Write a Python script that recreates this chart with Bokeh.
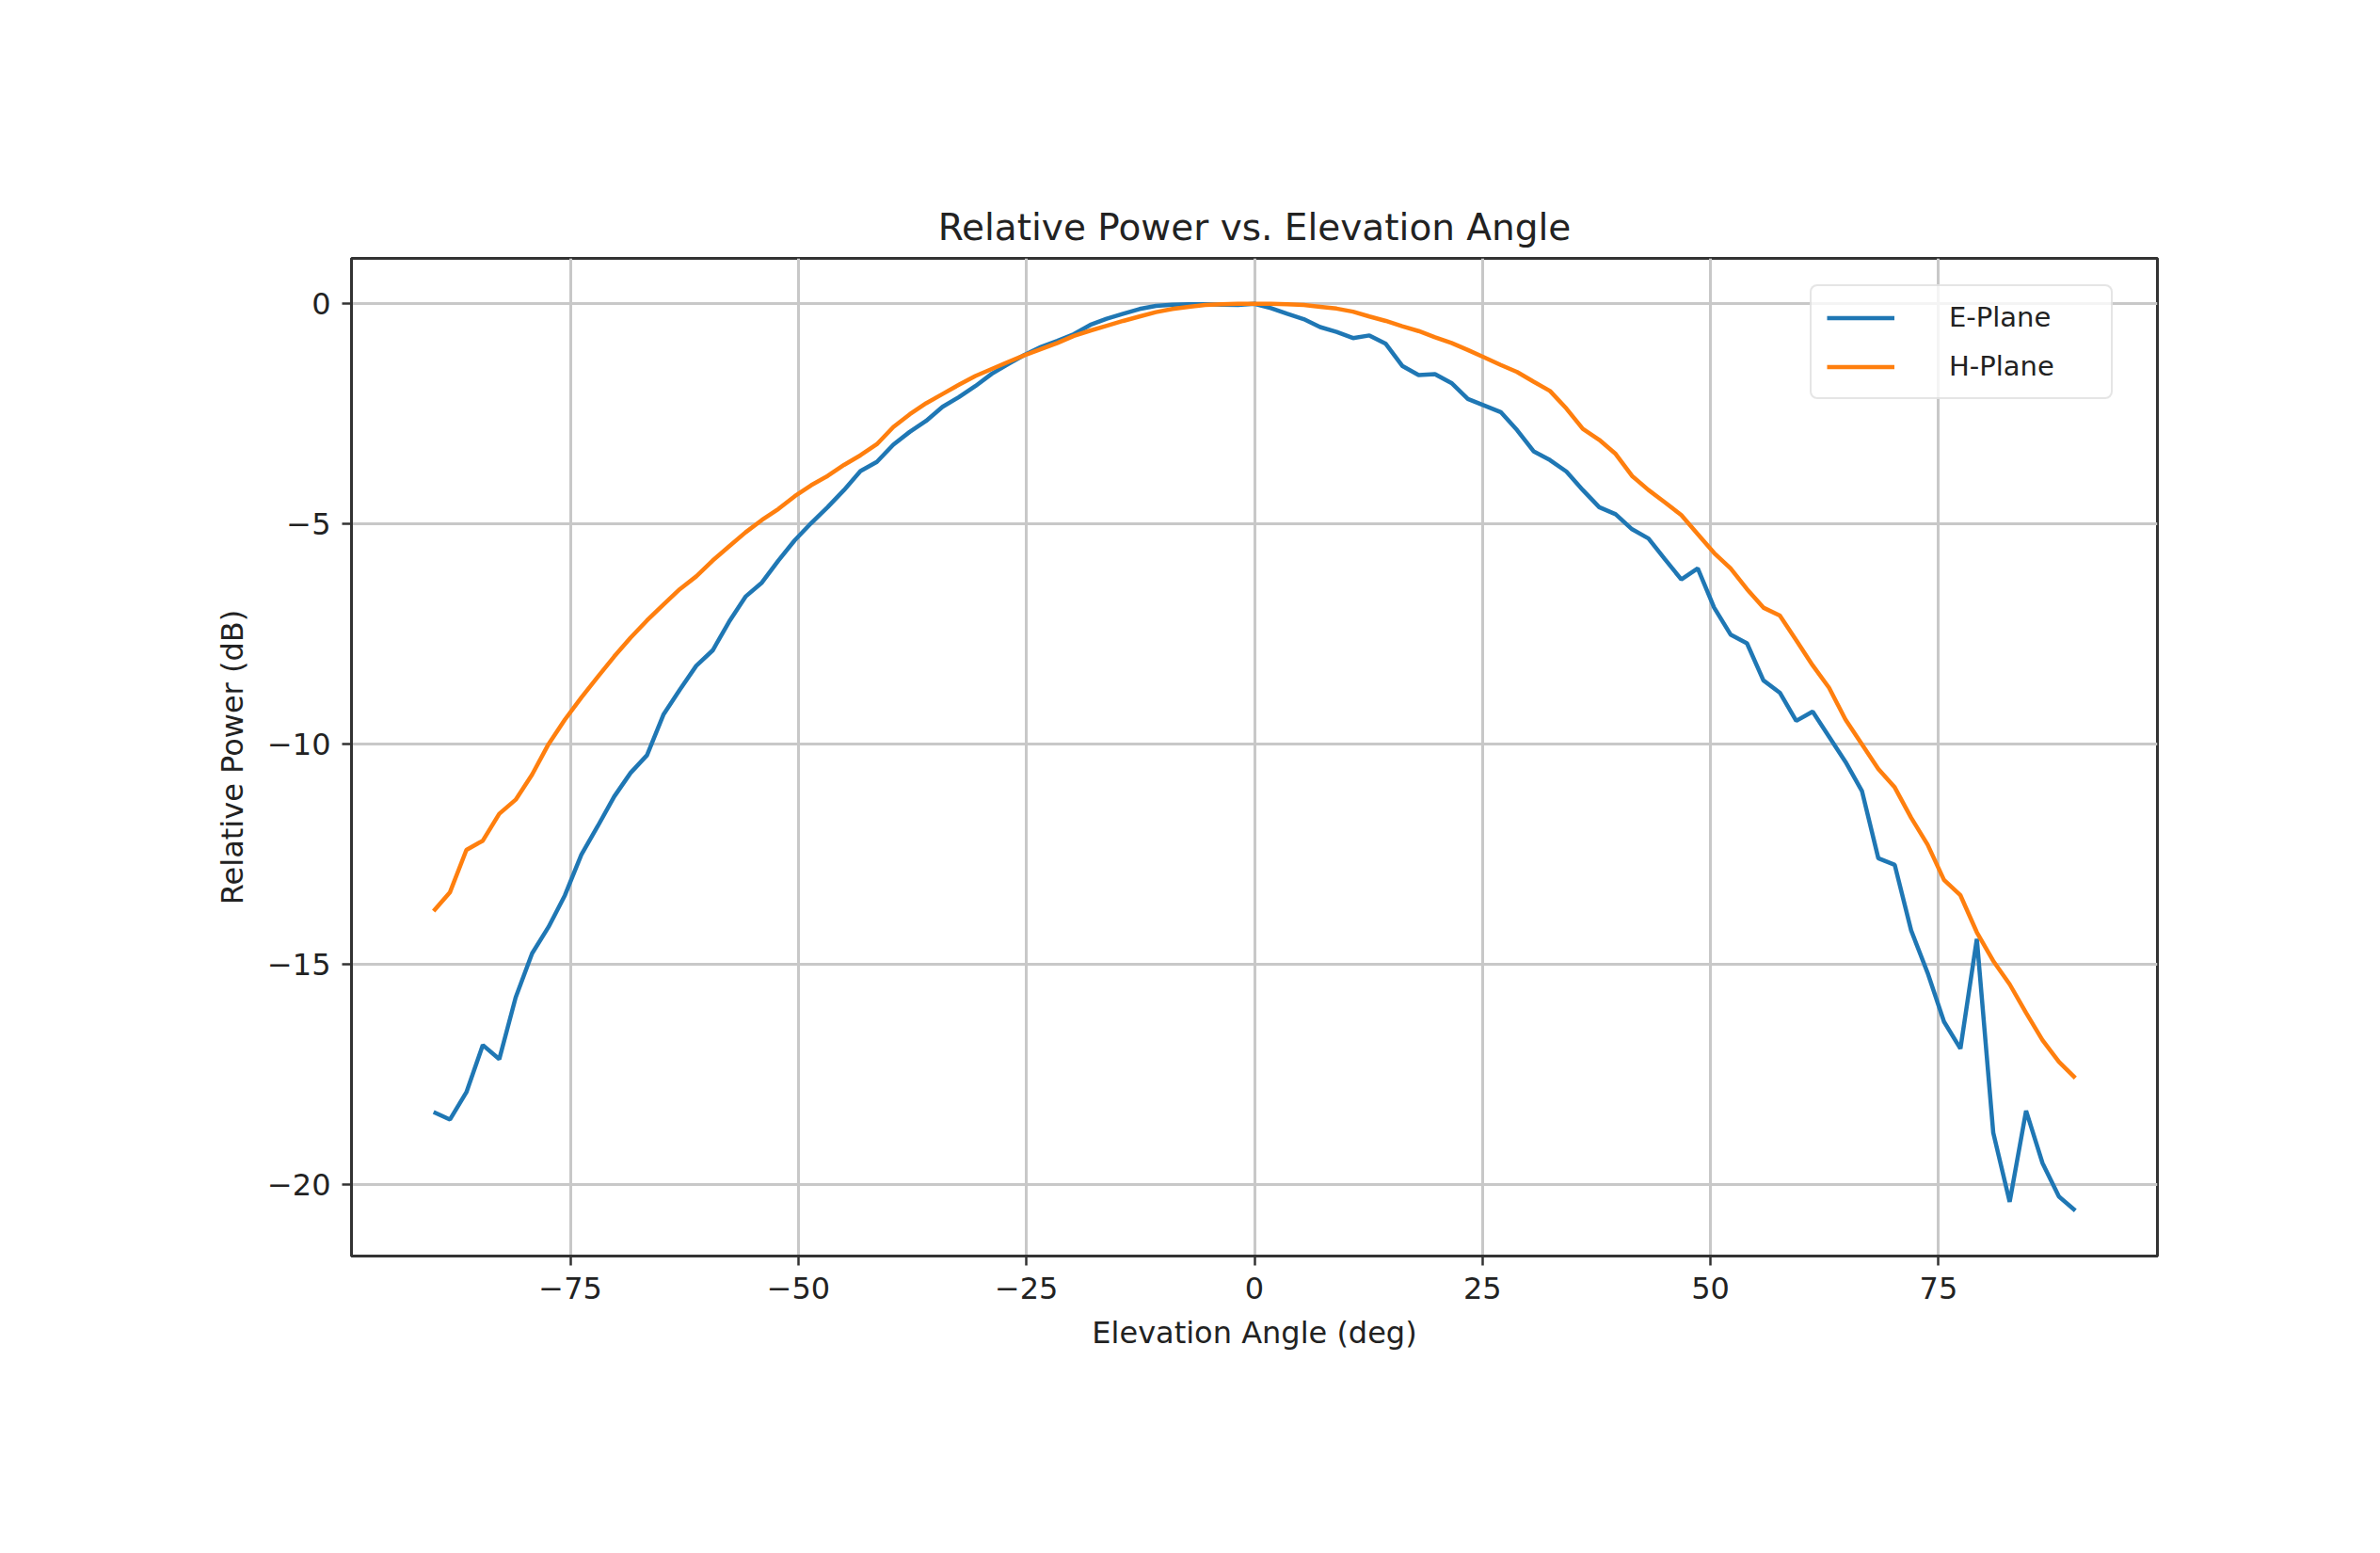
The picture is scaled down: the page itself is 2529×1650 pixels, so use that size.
from bokeh.plotting import figure
from bokeh.models import Range1d, FixedTicker, Legend, LegendItem
from bokeh.embed import file_html
from bokeh.resources import INLINE

# ---------------- data ----------------
angle = [-90.0, -88.2, -86.4, -84.6, -82.8, -81.0, -79.2, -77.4, -75.6, -73.8,
         -72.0, -70.2, -68.4, -66.6, -64.8, -63.0, -61.2, -59.4, -57.6, -55.8,
         -54.0, -52.2, -50.4, -48.6, -46.8, -45.0, -43.2, -41.4, -39.6, -37.8,
         -36.0, -34.2, -32.4, -30.6, -28.8, -27.0, -25.2, -23.4, -21.6, -19.8,
         -18.0, -16.2, -14.4, -12.6, -10.8, -9.0, -7.2, -5.4, -3.6, -1.8,
         0.0, 1.8, 3.6, 5.4, 7.2, 9.0, 10.8, 12.6, 14.4, 16.2,
         18.0, 19.8, 21.6, 23.4, 25.2, 27.0, 28.8, 30.6, 32.4, 34.2,
         36.0, 37.8, 39.6, 41.4, 43.2, 45.0, 46.8, 48.6, 50.4, 52.2,
         54.0, 55.8, 57.6, 59.4, 61.2, 63.0, 64.8, 66.6, 68.4, 70.2,
         72.0, 73.8, 75.6, 77.4, 79.2, 81.0, 82.8, 84.6, 86.4, 88.2,
         90.0]

e_plane = [-18.35, -18.52, -17.90, -16.83, -17.15, -15.75, -14.75, -14.15, -13.43, -12.51,
           -11.86, -11.19, -10.65, -10.25, -9.33, -8.76, -8.22, -7.87, -7.22, -6.65,
           -6.33, -5.83, -5.37, -4.98, -4.62, -4.23, -3.80, -3.59, -3.20, -2.91,
           -2.66, -2.34, -2.12, -1.87, -1.59, -1.37, -1.16, -0.98, -0.84, -0.69,
           -0.48, -0.34, -0.23, -0.12, -0.05, -0.02, -0.01, -0.01, -0.02, -0.03,
           0.00, -0.10, -0.23, -0.35, -0.53, -0.64, -0.78, -0.72, -0.91, -1.41,
           -1.62, -1.60, -1.80, -2.16, -2.31, -2.46, -2.87, -3.35, -3.55, -3.81,
           -4.23, -4.62, -4.78, -5.12, -5.33, -5.80, -6.26, -6.01, -6.90, -7.51,
           -7.71, -8.55, -8.83, -9.47, -9.26, -9.83, -10.40, -11.06, -12.59, -12.74,
           -14.23, -15.19, -16.30, -16.91, -14.42, -18.82, -20.39, -18.32, -19.51, -20.27,
           -20.59]

h_plane = [-13.79, -13.36, -12.40, -12.19, -11.58, -11.26, -10.69, -10.00, -9.44, -8.94,
           -8.47, -8.01, -7.58, -7.19, -6.83, -6.48, -6.19, -5.83, -5.51, -5.19,
           -4.91, -4.66, -4.37, -4.12, -3.91, -3.66, -3.44, -3.19, -2.80, -2.51,
           -2.26, -2.05, -1.84, -1.64, -1.48, -1.32, -1.17, -1.03, -0.89, -0.73,
           -0.61, -0.50, -0.39, -0.29, -0.19, -0.12, -0.07, -0.03, -0.01, 0.00,
           0.00, 0.00, -0.01, -0.03, -0.07, -0.11, -0.18, -0.29, -0.39, -0.51,
           -0.62, -0.76, -0.89, -1.05, -1.22, -1.39, -1.55, -1.77, -1.98, -2.38,
           -2.84, -3.09, -3.41, -3.91, -4.23, -4.51, -4.80, -5.23, -5.66, -6.01,
           -6.48, -6.90, -7.08, -7.64, -8.21, -8.72, -9.44, -10.00, -10.56, -10.98,
           -11.67, -12.28, -13.08, -13.43, -14.27, -14.92, -15.45, -16.10, -16.72, -17.21,
           -17.58]

x_ticks = [-75, -50, -25, 0, 25, 50, 75]
y_ticks = [-20, -15, -10, -5, 0]
series_labels = ["E-Plane", "H-Plane"]
title_text = "Relative Power vs. Elevation Angle"
x_label = "Elevation Angle (deg)"
y_label = "Relative Power (dB)"

# ---------------- figure ----------------
FONT = "DejaVu Sans"
TXT = "#222222"

p = figure(width=2529, height=1650, output_backend="svg", toolbar_location=None,
           x_range=Range1d(-99, 99), y_range=Range1d(-21.62, 1.03),
           min_border_left=373, min_border_right=237,
           min_border_top=274, min_border_bottom=316,
           title=title_text)

p.background_fill_color = "white"
p.border_fill_color = "white"
p.outline_line_color = "#333333"
p.outline_line_width = 3

p.title.align = "center"
p.title.text_font = FONT
p.title.text_font_size = "39px"
p.title.text_font_style = "normal"
p.title.text_color = TXT
p.title.standoff = 21

for ax in (p.xaxis[0], p.yaxis[0]):
    ax.axis_line_color = "#333333"
    ax.axis_line_width = 3
    ax.major_tick_line_color = "#333333"
    ax.major_tick_line_width = 2.5
    ax.major_tick_out = 10
    ax.major_tick_in = 0
    ax.minor_tick_line_color = None
    ax.major_label_text_font = FONT
    ax.major_label_text_font_size = "32px"
    ax.major_label_text_color = TXT
    ax.major_label_standoff = 12
    ax.axis_label_text_font = FONT
    ax.axis_label_text_font_size = "32px"
    ax.axis_label_text_font_style = "normal"
    ax.axis_label_text_color = TXT

p.xaxis[0].ticker = FixedTicker(ticks=x_ticks)
p.yaxis[0].ticker = FixedTicker(ticks=y_ticks)
p.xaxis[0].major_label_overrides = {t: str(t).replace("-", "\u2212") for t in x_ticks}
p.yaxis[0].major_label_overrides = {t: str(t).replace("-", "\u2212") for t in y_ticks}
p.xaxis[0].axis_label = x_label
p.yaxis[0].axis_label = y_label
p.xaxis[0].axis_label_standoff = 14
p.yaxis[0].axis_label_standoff = 15

p.xgrid[0].ticker = FixedTicker(ticks=x_ticks)
p.ygrid[0].ticker = FixedTicker(ticks=y_ticks)
for g in (p.xgrid[0], p.ygrid[0]):
    g.grid_line_color = "#c8c8c8"
    g.grid_line_width = 3

r1 = p.line(angle, e_plane, line_color="#1f77b4", line_width=4.5)
r2 = p.line(angle, h_plane, line_color="#ff7f0e", line_width=4.5)

legend = Legend(items=[LegendItem(label=series_labels[0], renderers=[r1]),
                       LegendItem(label=series_labels[1], renderers=[r2])],
                location=(1550, 910), margin=0, padding=16, spacing=18,
                glyph_width=72, glyph_height=33, label_height=33,
                label_width=156, label_standoff=58)
legend.label_text_font = FONT
legend.label_text_font_size = "29px"
legend.label_text_color = TXT
legend.border_line_color = "#cccccc"
legend.border_line_width = 2
legend.border_radius = 8
legend.background_fill_color = "white"
legend.background_fill_alpha = 0.8
p.add_layout(legend)

open("out.html", "w").write(file_html(p, INLINE))
